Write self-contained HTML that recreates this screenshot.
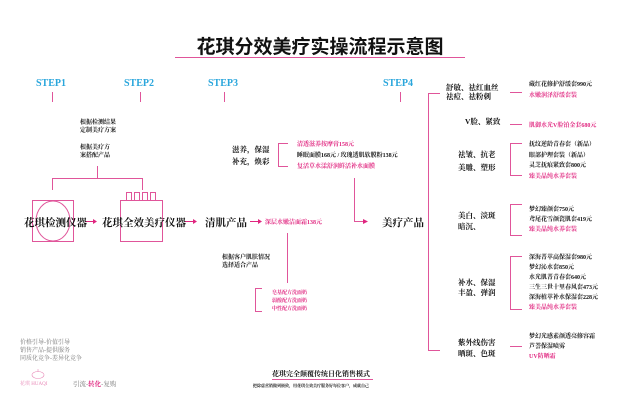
<!DOCTYPE html>
<html><head><meta charset="utf-8"><style>
html,body{margin:0;padding:0;background:#fff;width:640px;height:400px;overflow:hidden}
svg{display:block}
.s{font-family:"Liberation Serif","Noto Serif CJK SC",serif;font-weight:bold}
.step{font-family:"Liberation Serif",serif;font-weight:bold;fill:#2aa6dc;font-size:10px}
.p{fill:#e0257f}
</style></head><body>
<svg width="640" height="400" viewBox="0 0 640 400" xmlns="http://www.w3.org/2000/svg">
<g stroke="#e0559a" stroke-width="1" fill="none">
<line x1="175" y1="57.5" x2="465" y2="57.5"/>
<line x1="52.5" y1="92" x2="52.5" y2="102"/>
<line x1="140.5" y1="92" x2="140.5" y2="102"/>
<line x1="224.5" y1="92" x2="224.5" y2="102"/>
<line x1="400.5" y1="92" x2="400.5" y2="102"/>
<polyline points="97.5,166 97.5,178.5"/>
<polyline points="52.5,190 52.5,178.5 142.5,178.5 142.5,190"/>
<rect x="32.5" y="200.5" width="41" height="41"/>
<ellipse cx="53" cy="221" rx="17" ry="20"/>
<rect x="120.5" y="200.5" width="42" height="41"/>
<rect x="126.5" y="192.5" width="5" height="8"/><rect x="134.5" y="192.5" width="5" height="8"/><rect x="142.5" y="192.5" width="5" height="8"/><rect x="150.5" y="192.5" width="5" height="8"/>
<polyline points="288,143.5 278.5,143.5 278.5,166.5 288,166.5"/>
<polyline points="354.5,178 354.5,221.5 363,221.5"/>
<line x1="287.5" y1="233" x2="287.5" y2="283"/>
<polyline points="262,288.5 255.5,288.5 255.5,311.5 262,311.5"/>
<polyline points="440,93.5 428.5,93.5 428.5,350.5 440,350.5"/>
<line x1="510" y1="92.5" x2="522" y2="92.5"/>
<line x1="510" y1="124.5" x2="522" y2="124.5"/>
<polyline points="522,143.5 510.5,143.5 510.5,175.5 522,175.5"/>
<polyline points="522,204.5 510.5,204.5 510.5,235.5 522,235.5"/>
<polyline points="522,256.5 510.5,256.5 510.5,309.5 522,309.5"/>
<line x1="510" y1="346.5" x2="522" y2="346.5"/>
<line x1="272" y1="379.5" x2="373" y2="379.5"/>
</g>
<g class="p">
<path d="M85 221h8v-2l4 2.5-4 2.5v-2h-8z"/>
<path d="M185 221h8v-2l4 2.5-4 2.5v-2h-8z"/>
<path d="M250 221h8v-2l4 2.5-4 2.5v-2h-8z"/>
<path d="M363 219l5 2.5-5 2.5z"/>
</g>
<text x="320" y="53" text-anchor="middle" font-family="'Liberation Sans','Noto Sans CJK SC',sans-serif" font-weight="bold" font-size="19" fill="#111">花琪分效美疗实操流程示意图</text>
<text class="step" x="36" y="86">STEP1</text>
<text class="step" x="124" y="86">STEP2</text>
<text class="step" x="208" y="86">STEP3</text>
<text class="step" x="383" y="86">STEP4</text>
<g class="s" font-size="6" fill="#111">
<text x="80" y="124">根据检测结果</text><text x="80" y="132">定制美疗方案</text>
<text x="80" y="149">根据美疗方</text><text x="80" y="157">案搭配产品</text>
<text x="222" y="259">根据客户肌肤情况</text><text x="222" y="267">选择适合产品</text>
</g>
<g class="s" font-size="10.5" fill="#111">
<text x="24" y="226">花琪检测仪器</text>
<text x="102" y="226">花琪全效美疗仪器</text>
<text x="205" y="226">清肌产品</text>
<text x="382" y="226">美疗产品</text>
</g>
<g class="s" font-size="7.5" fill="#111">
<text x="232" y="152">滋养，保湿</text><text x="232" y="164">补充，焕彩</text>
<text x="446" y="90">舒敏、祛红血丝</text><text x="446" y="99">祛痘、祛粉刺</text>
<text x="465" y="124">V脸、紧致</text>
<text x="458" y="157">祛皱、抗老</text><text x="458" y="170">美雕、塑形</text>
<text x="458" y="218">美白、淡斑</text><text x="458" y="229">暗沉、</text>
<text x="458" y="285">补水、保湿</text><text x="458" y="295">丰盈、弹润</text>
<text x="458" y="345">紫外线伤害</text><text x="458" y="356">晒斑、色斑</text>
</g>
<g class="s" font-size="6">
<text x="297" y="146" class="p">清透滋养按摩膏158元</text>
<text x="297" y="157" fill="#111">睡眠面膜168元 / 玫瑰透肌软膜粉138元</text>
<text x="297" y="168" class="p">复活草水漾舒润鲜活补水面膜</text>
<text x="265" y="224" class="p">深层水嫩洁面霜138元</text>
<text x="272" y="294" class="p" font-size="5">皂基配方洗面奶</text>
<text x="272" y="302" class="p" font-size="5">弱酸配方洗面奶</text>
<text x="272" y="310" class="p" font-size="5">中性配方洗面奶</text>
<text x="529" y="86" fill="#111">藏红花修护舒缓套990元</text>
<text x="529" y="97" class="p">水嫩润泽舒缓套装</text>
<text x="529" y="127" class="p">肌御水光V脸铂金套680元</text>
<text x="529" y="146" fill="#111">抚纹逆龄青春套（新品）</text>
<text x="529" y="157" fill="#111">眼部护理套装（新品）</text>
<text x="529" y="167" fill="#111">灵芝抚痕紧致套800元</text>
<text x="529" y="178" class="p">臻美晶纯水养套装</text>
<text x="529" y="211" fill="#111">梦幻臻颜套750元</text>
<text x="529" y="221" fill="#111">鸢尾花雪颜瓷肌套419元</text>
<text x="529" y="231" class="p">臻美晶纯水养套装</text>
<text x="529" y="259" fill="#111">深海菁萃高保湿套980元</text>
<text x="529" y="269" fill="#111">梦幻沁水套850元</text>
<text x="529" y="279" fill="#111">水光肌菁青春套640元</text>
<text x="529" y="289" fill="#111">三生三世十里春风套473元</text>
<text x="529" y="299" fill="#111">深海植萃补水保湿套228元</text>
<text x="529" y="309" class="p">臻美晶纯水养套装</text>
<text x="529" y="338" fill="#111">梦幻光感素颜透亮修容霜</text>
<text x="529" y="348" fill="#111">芦荟保湿喷雾</text>
<text x="529" y="358" class="p">UV防晒霜</text>
<text x="272" y="376" fill="#111" font-size="7">花琪完全颠覆传统日化销售模式</text>
<text x="253" y="387" fill="#111" font-size="4">把除虚营销做到极致，用花琪全效美疗服务好每位客户，成就自己</text>
</g>
<g font-family="'Liberation Serif','Noto Serif CJK SC',serif" font-size="6" fill="#777">
<text x="20" y="344">价格引导-价值引导</text>
<text x="20" y="352">销售产品-提供服务</text>
<text x="20" y="360">同质化竞争-差异化竞争</text>
<text x="20" y="385" fill="#e88ab8" font-size="5">花琪 HUAQI</text>
<text x="73" y="386" font-size="6.5">引流-<tspan fill="#e0257f" font-weight="bold">转化</tspan>-复购</text>
</g>
<g stroke="#e88ab8" fill="none" stroke-width="0.6"><ellipse cx="38" cy="375" rx="6" ry="3.5"/><line x1="38" y1="369" x2="38" y2="372"/></g>
</svg>
</body></html>
